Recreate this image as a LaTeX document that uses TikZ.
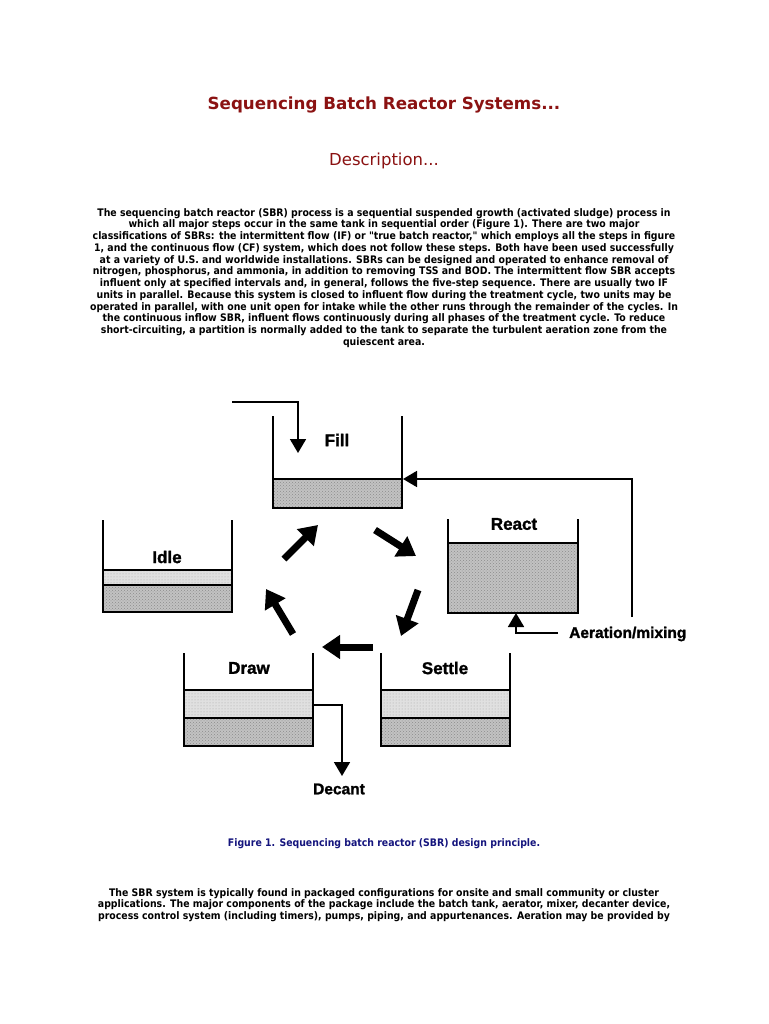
\documentclass[tikz,border=0pt]{standalone}
\usepackage{fontspec}
\setmainfont{DejaVu Sans}
\newfontfamily\parafont{DejaVu Sans}[FakeStretch=0.9]
\newfontfamily\labfont{Liberation Sans}[BoldFeatures={FakeBold=1.5}]
\usetikzlibrary{arrows.meta,patterns}
\definecolor{titlered}{RGB}{139,18,18}
\definecolor{capblue}{RGB}{20,20,125}
\tikzset{
  wall/.style={line width=1.8pt, line join=miter},
  level/.style={line width=1.3pt},
  dense/.style={fill=black!24, postaction={pattern=crosshatch dots, pattern color=black!45}},
  light/.style={fill=black!12, postaction={pattern=dots, pattern color=black!35}},
  tanklabel/.style={font=\labfont\bfseries\fontsize{17}{17}\selectfont, inner sep=0pt},
  biglabel/.style={font=\labfont\bfseries\fontsize{15.5}{15.5}\selectfont, inner sep=0pt},
  cyclearrow/.style={line width=7pt, -{Triangle[length=18pt,width=23pt]}},
  pipearrow/.style={line width=1.8pt, -{Triangle[length=14pt,width=16pt]}},
  para/.style={font=\parafont\bfseries\fontsize{10.4}{11.75}\selectfont, align=center, inner sep=0pt},
}
\begin{document}
\begin{tikzpicture}[x=1pt,y=-1pt]
\fill[white] (0,0) rectangle (768,1024);
\useasboundingbox (0,0) rectangle (768,1024);

% Titles
\node[text=titlered, font=\bfseries\fontsize{16.7}{16.7}\selectfont, inner sep=0pt] (title) at (384,105) {Sequencing Batch Reactor Systems...};
\node[text=titlered, font=\fontsize{16.5}{16.5}\selectfont, inner sep=0pt] (desc) at (384,161) {Description...};

% Paragraph
\node[para, anchor=north] (para1) at (384,208) {The sequencing batch reactor (SBR) process is a sequential suspended growth (activated sludge) process in\\
which all major steps occur in the same tank in sequential order (Figure 1). There are two major\\
classifications of SBRs: the intermittent flow (IF) or "true batch reactor," which employs all the steps in figure\\
1, and the continuous flow (CF) system, which does not follow these steps. Both have been used successfully\\
at a variety of U.S. and worldwide installations. SBRs can be designed and operated to enhance removal of\\
nitrogen, phosphorus, and ammonia, in addition to removing TSS and BOD. The intermittent flow SBR accepts\\
influent only at specified intervals and, in general, follows the five-step sequence. There are usually two IF\\
units in parallel. Because this system is closed to influent flow during the treatment cycle, two units may be\\
operated in parallel, with one unit open for intake while the other runs through the remainder of the cycles. In\\
the continuous inflow SBR, influent flows continuously during all phases of the treatment cycle. To reduce\\
short-circuiting, a partition is normally added to the tank to separate the turbulent aeration zone from the\\
quiescent area.};

% ---------- Fill tank ----------
\path[dense] (273,479) rectangle (402,508);
\draw[level] (273,479) -- (402,479);
\draw[wall] (273,416) -- (273,508) -- (402,508) -- (402,416);
\node[tanklabel] (fill) at (337,440) {Fill};
\coordinate (inA) at (232,402);
\coordinate (inB) at (298,402);
\coordinate (inC) at (298,453);
\draw[pipearrow] (inA) -- (inB) -- (inC);

% ---------- React tank ----------
\path[dense] (448,543) rectangle (578,613);
\draw[level] (448,543) -- (578,543);
\draw[wall] (448,519) -- (448,613) -- (578,613) -- (578,519);
\node[tanklabel] (react) at (514,524) {React};
% return line
\coordinate (retA) at (632,617);
\coordinate (retB) at (632,479);
\coordinate (retC) at (403,479);
\draw[pipearrow] (retA) -- (retB) -- (retC);
% aeration
\node[biglabel, anchor=west] (aer) at (569,634) {Aeration/mixing};
\coordinate (aerA) at (558,633);
\coordinate (aerB) at (516,633);
\coordinate (aerC) at (516,613);
\draw[pipearrow] (aerA) -- (aerB) -- (aerC);

% ---------- Idle tank ----------
\path[dense] (103,585) rectangle (232,612);
\path[light] (103,570) rectangle (232,585);
\draw[level] (103,570) -- (232,570);
\draw[level] (103,585) -- (232,585);
\draw[wall] (103,520) -- (103,612) -- (232,612) -- (232,520);
\node[tanklabel] (idle) at (167,557) {Idle};

% ---------- Draw tank ----------
\path[dense] (184,718) rectangle (313,746);
\path[light] (184,690) rectangle (313,718);
\draw[level] (184,690) -- (313,690);
\draw[level] (184,718) -- (313,718);
\draw[wall] (184,653) -- (184,746) -- (313,746) -- (313,653);
\node[tanklabel] (draw) at (249,668) {Draw};
\coordinate (decA) at (313,705);
\coordinate (decB) at (342,705);
\coordinate (decC) at (342,776);
\draw[pipearrow] (decA) -- (decB) -- (decC);
\node[biglabel] (decant) at (339,789) {Decant};

% ---------- Settle tank ----------
\path[dense] (381,718) rectangle (510,746);
\path[light] (381,690) rectangle (510,718);
\draw[level] (381,690) -- (510,690);
\draw[level] (381,718) -- (510,718);
\draw[wall] (381,653) -- (381,746) -- (510,746) -- (510,653);
\node[tanklabel] (settle) at (445,668) {Settle};

% ---------- cycle arrows ----------
\coordinate (c1a) at (284,559);
\coordinate (c1b) at (318,525);
\coordinate (c2a) at (375,530);
\coordinate (c2b) at (416,556);
\coordinate (c3a) at (418,590);
\coordinate (c3b) at (401,636);
\coordinate (c4a) at (373,647);
\coordinate (c4b) at (322,647);
\coordinate (c5a) at (293,634);
\coordinate (c5b) at (266,589);
\draw[cyclearrow] (c1a) -- (c1b);
\draw[cyclearrow] (c2a) -- (c2b);
\draw[cyclearrow] (c3a) -- (c3b);
\draw[cyclearrow] (c4a) -- (c4b);
\draw[cyclearrow] (c5a) -- (c5b);

% Caption
\node[text=capblue, font=\parafont\bfseries\fontsize{10.4}{11.75}\selectfont, inner sep=0pt] (cap) at (384,844) {Figure 1. Sequencing batch reactor (SBR) design principle.};

% Bottom paragraph
\node[para, anchor=north] (para2) at (384,888) {The SBR system is typically found in packaged configurations for onsite and small community or cluster\\
applications. The major components of the package include the batch tank, aerator, mixer, decanter device,\\
process control system (including timers), pumps, piping, and appurtenances. Aeration may be provided by};
\end{tikzpicture}
\end{document}
